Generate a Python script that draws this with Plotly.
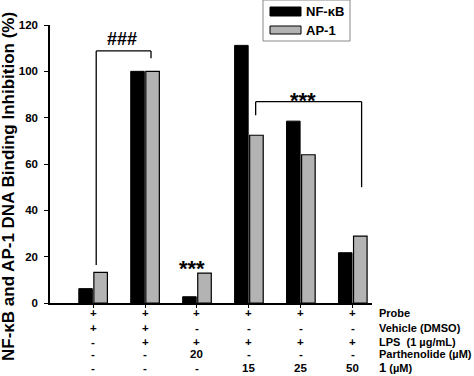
import plotly.graph_objects as go

# ---- data ----
groups = [0, 1, 2, 3, 4, 5]
nfkb = [6.2, 100, 2.7, 111.2, 78.5, 21.7]
ap1 = [13.2, 100, 12.9, 72.4, 64.0, 28.9]
series_names = ["NF-κB", "AP-1"]
series_colors = ["#000000", "#b3b3b3"]

row_labels = ["Probe", "Vehicle (DMSO)", "LPS  (1 µg/mL)", "Parthenolide (µM)",
              "<span style='font-size:13px'>1</span> (µM)"]
probe = ["+", "+", "+", "+", "+", "+"]
vehicle = ["+", "+", "-", "-", "-", "-"]
lps = ["-", "+", "+", "+", "+", "+"]
parthenolide = ["-", "-", "20", "-", "-", "-"]
compound1 = ["-", "-", "-", "15", "25", "50"]
table_rows = [probe, vehicle, lps, parthenolide, compound1]

yticks = [0, 20, 40, 60, 80, 100, 120]

FONT = "Arial, Liberation Sans, sans-serif"

# geometry (pixels)
W, H = 474, 376
ML, MR, MT, MB = 50, 102, 25, 73
plot_h = H - MT - MB
plot_w = W - ML - MR

def py2paper(py):
    return (H - MB - py) / plot_h

def px2paper(px):
    return (px - ML) / plot_w

fig = go.Figure()
fig.add_trace(go.Bar(x=groups, y=nfkb, name=series_names[0],
                     marker=dict(color=series_colors[0], line=dict(color="#000000", width=1))))
fig.add_trace(go.Bar(x=groups, y=ap1, name=series_names[1],
                     marker=dict(color=series_colors[1], line=dict(color="#000000", width=1.2))))

shapes = []
line = dict(color="black", width=1.3)
# ### bracket
shapes.append(dict(type="line", xref="x", yref="y", x0=0.06, x1=0.06, y0=16.4, y1=108.8, line=line))
shapes.append(dict(type="line", xref="x", yref="y", x0=0.06, x1=1.115, y0=108.8, y1=108.8, line=line))
shapes.append(dict(type="line", xref="x", yref="y", x0=1.115, x1=1.115, y0=108.8, y1=105.6, line=line))
# *** bracket
shapes.append(dict(type="line", xref="x", yref="y", x0=3.13, x1=3.13, y0=81.0, y1=86.9, line=line))
shapes.append(dict(type="line", xref="x", yref="y", x0=3.13, x1=5.17, y0=86.9, y1=86.9, line=line))
shapes.append(dict(type="line", xref="x", yref="y", x0=5.17, x1=5.17, y0=86.9, y1=50.0, line=line))

# legend (drawn box)
shapes.append(dict(type="rect", xref="paper", yref="paper", x0=px2paper(263), x1=px2paper(350),
                   y0=py2paper(41), y1=py2paper(0), line=dict(color="#888888", width=1),
                   fillcolor="white", layer="above"))
leg_y = [(7, 16), (26, 34)]
for (ya, yb), col in zip(leg_y, series_colors):
    shapes.append(dict(type="rect", xref="paper", yref="paper", x0=px2paper(270), x1=px2paper(301),
                       y0=py2paper(yb), y1=py2paper(ya), line=dict(color="black", width=1),
                       fillcolor=col, layer="above"))

annotations = []
for (ya, yb), name in zip(leg_y, series_names):
    annotations.append(dict(x=px2paper(304), y=py2paper((ya + yb) / 2), xref="paper", yref="paper",
                            text=name, showarrow=False, xanchor="left", yanchor="middle",
                            font=dict(family=FONT, size=13, color="black", weight="bold")))

annotations.append(dict(x=0.56, y=114.0, xref="x", yref="y", text="###", showarrow=False,
                        font=dict(family=FONT, size=18, color="black", weight="bold")))
annotations.append(dict(x=4.05, y=87.5, xref="x", yref="y", text="***", showarrow=False,
                        font=dict(family=FONT, size=22, color="black", weight="bold")))
annotations.append(dict(x=1.9, y=15.0, xref="x", yref="y", text="***", showarrow=False,
                        font=dict(family=FONT, size=22, color="black", weight="bold")))

row_py = [313, 328, 342, 354, 368]
for r, (vals, lab, py) in enumerate(zip(table_rows, row_labels, row_py)):
    for g, v in zip(groups, vals):
        annotations.append(dict(x=g, y=py2paper(py), xref="x", yref="paper", text=v,
                                showarrow=False, yanchor="middle",
                                font=dict(family=FONT, size=11.5, color="black", weight="bold")))
    annotations.append(dict(x=px2paper(377), y=py2paper(py), xref="paper", yref="paper",
                            text=lab, showarrow=False, xanchor="left", yanchor="middle",
                            font=dict(family=FONT, size=11, color="black", weight="bold")))

# y-axis title
annotations.append(dict(x=px2paper(9), y=py2paper(187), xref="paper", yref="paper",
                        text="NF-κB and AP-1 DNA Binding Inhibition (%)", textangle=-90,
                        showarrow=False, xanchor="center", yanchor="middle",
                        font=dict(family=FONT, size=17, color="black", weight="bold")))

fig.update_layout(
    width=W, height=H,
    margin=dict(l=ML, r=MR, t=MT, b=MB, pad=0, autoexpand=False),
    paper_bgcolor="white", plot_bgcolor="white",
    barmode="group", bargap=0.42, bargroupgap=0.1,
    font=dict(family=FONT, color="black"),
    showlegend=False,
    shapes=shapes, annotations=annotations,
)
fig.update_xaxes(range=[-0.83, 5.37], showline=True, linecolor="black", linewidth=1.5,
                 ticks="outside", ticklen=3, tickcolor="black", showticklabels=False,
                 tickvals=groups, showgrid=False, zeroline=False, fixedrange=True)
fig.update_yaxes(range=[0, 120], showline=True, linecolor="black", linewidth=1.5,
                 ticks="outside", ticklen=4, tickcolor="black", tickvals=yticks,
                 tickfont=dict(family=FONT, size=11.5, color="black", weight="bold"),
                 ticklabelstandoff=4,
                 showgrid=False, zeroline=False, fixedrange=True)

fig.write_html("out.html", config={"displayModeBar": False},
               post_script="document.body.style.margin='0';document.body.style.overflow='hidden';")
